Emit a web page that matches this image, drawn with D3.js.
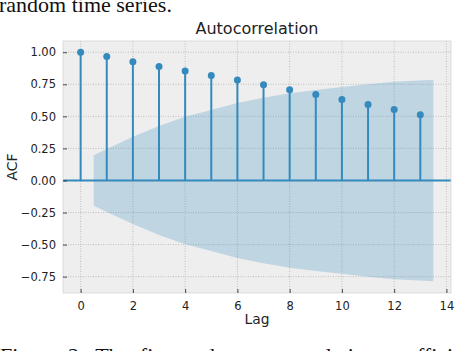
<!DOCTYPE html>
<html>
<head>
<meta charset="utf-8">
<script src="https://cdn.jsdelivr.net/npm/d3@7"></script>
<style>
    html, body { margin: 0; padding: 0; background: #fff; overflow: hidden; }
    svg { display: block; }
</style>
</head>
<body>
<div class="container"></div>
<script>
const width = 474;
const height = 351;
const blue = '#348abd';
const plotBg = '#eeeeee';
const gridColor = '#b2b2b2';

// stem values
const lags = [0, 1, 2, 3, 4, 5, 6, 7, 8, 9, 10, 11, 12, 13];
const acfValues = [1.00, 0.967, 0.926, 0.889, 0.853, 0.819, 0.783, 0.746, 0.707, 0.671, 0.632, 0.593, 0.554, 0.512];

// confidence band (half width around zero)
const bandLags = [0.5, 2, 3, 4, 5, 6, 7, 8, 9, 10, 11, 12, 13.5];
const bandHalf = [0.197, 0.34, 0.425, 0.497, 0.55, 0.605, 0.645, 0.68, 0.705, 0.728, 0.75, 0.77, 0.785];

const xTicks = [0, 2, 4, 6, 8, 10, 12, 14];
const yTicks = [-0.75, -0.50, -0.25, 0.00, 0.25, 0.50, 0.75, 1.00];

const plot = { left: 63, right: 451, top: 41, bottom: 293 };

function fmtY(v) {
    return d3.format('.2f')(v).replace('-', '\u2212');
}

const svg = d3.select('.container')
    .append('svg')
    .attr('width', width)
    .attr('height', height);

// caption fragments from the page the chart was cut from
svg.append('text')
    .attr('x', -1)
    .attr('y', 12)
    .attr('font-family', 'Liberation Serif, serif')
    .attr('font-size', 22)
    .attr('fill', '#111')
    .text('random time series.');

svg.append('text')
    .attr('x', 0)
    .attr('y', 363)
    .attr('font-family', 'Liberation Serif, serif')
    .attr('font-size', 22)
    .attr('word-spacing', 5)
    .attr('fill', '#111')
    .text('Figure 2: The first order autocorrelation coefficients of');

const x = d3.scaleLinear().domain([-0.675, 14.175]).range([plot.left, plot.right]);
const y = d3.scaleLinear().domain([-0.8775, 1.0875]).range([plot.bottom, plot.top]);

svg.append('rect')
    .attr('x', plot.left)
    .attr('y', plot.top)
    .attr('width', plot.right - plot.left)
    .attr('height', plot.bottom - plot.top)
    .attr('fill', plotBg);

// grid
const grid = svg.append('g')
    .attr('stroke', gridColor)
    .attr('stroke-width', 0.8)
    .attr('stroke-dasharray', '1,1.5');
grid.selectAll('.gx')
    .data(xTicks)
    .enter()
    .append('line')
    .attr('x1', d => x(d))
    .attr('x2', d => x(d))
    .attr('y1', plot.top)
    .attr('y2', plot.bottom);
grid.selectAll('.gy')
    .data(yTicks)
    .enter()
    .append('line')
    .attr('x1', plot.left)
    .attr('x2', plot.right)
    .attr('y1', d => y(d))
    .attr('y2', d => y(d));

// confidence band
const band = bandLags.map((lag, i) => ({ lag, w: bandHalf[i] }));
svg.append('path')
    .datum(band)
    .attr('fill', blue)
    .attr('fill-opacity', 0.25)
    .attr('d', d3.area()
        .x(d => x(d.lag))
        .y0(d => y(-d.w))
        .y1(d => y(d.w)));

// zero line
svg.append('line')
    .attr('x1', plot.left)
    .attr('x2', plot.right)
    .attr('y1', y(0))
    .attr('y2', y(0))
    .attr('stroke', blue)
    .attr('stroke-width', 2);

const acf = lags.map((lag, i) => ({ lag, value: acfValues[i] }));

svg.selectAll('.stem')
    .data(acf)
    .enter()
    .append('line')
    .attr('class', 'stem')
    .attr('x1', d => x(d.lag))
    .attr('x2', d => x(d.lag))
    .attr('y1', y(0))
    .attr('y2', d => y(d.value))
    .attr('stroke', blue)
    .attr('stroke-width', 2);

svg.selectAll('.dot')
    .data(acf)
    .enter()
    .append('circle')
    .attr('class', 'dot')
    .attr('cx', d => x(d.lag))
    .attr('cy', d => y(d.value))
    .attr('r', 3.5)
    .attr('fill', blue);

// frame
svg.append('rect')
    .attr('x', plot.left)
    .attr('y', plot.top)
    .attr('width', plot.right - plot.left)
    .attr('height', plot.bottom - plot.top)
    .attr('fill', 'none')
    .attr('stroke', '#d4d4d4')
    .attr('stroke-width', 0.8);

// ticks point inward, labels outside
const xAxis = d3.axisBottom(x)
    .tickValues(xTicks)
    .tickSize(-4)
    .tickPadding(9)
    .tickFormat(d3.format('d'));
const gx = svg.append('g')
    .attr('transform', `translate(0,${plot.bottom})`)
    .call(xAxis);

const yAxis = d3.axisLeft(y)
    .tickValues(yTicks)
    .tickSize(-4)
    .tickPadding(7)
    .tickFormat(fmtY);
const gy = svg.append('g')
    .attr('transform', `translate(${plot.left},0)`)
    .call(yAxis);

[gx, gy].forEach(g => {
    g.select('.domain').remove();
    g.selectAll('.tick line').attr('stroke', '#222').attr('stroke-width', 0.8);
    g.selectAll('.tick text')
        .attr('fill', '#222')
        .attr('font-family', 'DejaVu Sans, sans-serif')
        .attr('font-size', 11.5);
});

svg.append('text')
    .attr('x', (plot.left + plot.right) / 2)
    .attr('y', 34)
    .attr('text-anchor', 'middle')
    .attr('font-family', 'DejaVu Sans, sans-serif')
    .attr('font-size', 16)
    .attr('fill', '#222')
    .text('Autocorrelation');

svg.append('text')
    .attr('x', (plot.left + plot.right) / 2)
    .attr('y', 324)
    .attr('text-anchor', 'middle')
    .attr('font-family', 'DejaVu Sans, sans-serif')
    .attr('font-size', 13.8)
    .attr('fill', '#222')
    .text('Lag');

svg.append('text')
    .attr('transform', `translate(17,${(plot.top + plot.bottom) / 2}) rotate(-90)`)
    .attr('text-anchor', 'middle')
    .attr('font-family', 'DejaVu Sans, sans-serif')
    .attr('font-size', 13.8)
    .attr('fill', '#222')
    .text('ACF');
</script>
</body>
</html>
